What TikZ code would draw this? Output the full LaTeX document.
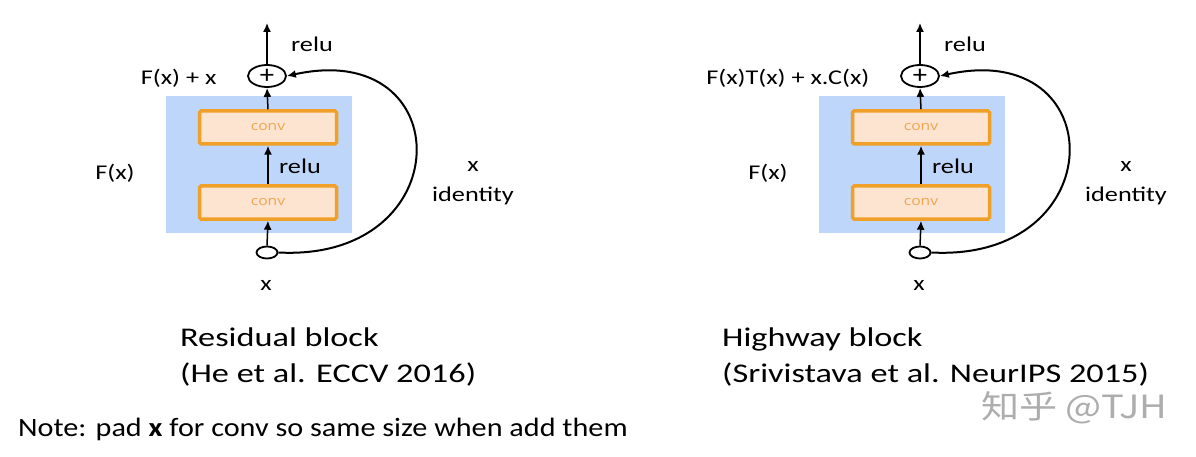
\documentclass[tikz,border=0pt]{standalone}
\usepackage{fontspec}
\usepackage{graphicx}
\setmainfont{Carlito}
\newfontfamily\convfont{Open Sans}
\newfontfamily\cjkfont{Noto Sans CJK SC}
\usetikzlibrary{shapes.geometric,arrows.meta}
\definecolor{fxblue}{RGB}{189,214,250}
\definecolor{convedge}{RGB}{240,160,40}
\definecolor{convfill}{RGB}{252,228,208}
\definecolor{convtext}{RGB}{240,165,80}
% the source is stretched sideways
\newcommand{\wide}[2][1.25]{\scalebox{#1}[1]{#2}}
\begin{document}
\begin{tikzpicture}[x=1pt,y=-1pt,
    lbl/.style={font=\fontsize{21}{25}\selectfont},
    captxt/.style={font=\fontsize{27}{31}\selectfont,anchor=base west,inner sep=0pt},
    convbox/.style={draw=convedge,fill=convfill,line width=3.5pt,rounded corners=1.5pt,
        minimum width=137pt,minimum height=33pt,inner sep=0pt,
        font=\convfont\fontsize{13}{15}\selectfont,text=convtext},
    flow/.style={-{Latex[length=9pt,width=8pt]},line width=1.5pt}]
    \useasboundingbox (0,0) rectangle (1196,457);
    \foreach \bx/\sumtxt/\nm in {0/{F(x) + x}/res,653/{F(x)T(x) + x.C(x)}/hw}
    {
        \begin{scope}[xshift=\bx]
            \node[fill=fxblue,minimum width=186pt,minimum height=137pt] (\nm-fx) at (259,164.5) {};
            \node[convbox] (\nm-convtop) at (268,127.5) {\wide[1.2]{conv}};
            \node[convbox] (\nm-convbot) at (268,202.5) {\wide[1.2]{conv}};
            \node[ellipse,draw,line width=1.8pt,minimum width=38pt,minimum height=22pt,inner sep=0pt,
                font=\fontsize{26}{28}\selectfont] (\nm-sum) at (267,76) {\wide[1.1]{+}};
            \node[ellipse,draw,line width=1.8pt,minimum width=21pt,minimum height=12pt,inner sep=0pt] (\nm-in) at (267,252.5) {};
            \coordinate (\nm-out) at (267,23);
            \draw[flow] (\nm-sum.north) -- (\nm-out);
            \draw[flow] (\nm-convtop.north) -- (\nm-sum.south);
            \draw[flow] (\nm-convbot.north) -- (\nm-convtop.south);
            \draw[flow] (\nm-in.north) -- (\nm-convbot.south);
            \draw[flow,line width=2pt] (\nm-in.east) .. controls (460,262) and (460,38) .. (\nm-sum.east);
            \node[lbl] (\nm-reluout) at (312,44) {\wide{relu}};
            \node[lbl] (\nm-relumid) at (300,166) {\wide{relu}};
            \node[lbl,anchor=east] (\nm-sumlbl) at (220,78) {\wide{\sumtxt}};
            \node[lbl] (\nm-fxlbl) at (115,173) {\wide{F(x)}};
            \node[lbl] (\nm-idx) at (473,166) {\wide{x}};
            \node[lbl] (\nm-idlbl) at (473,196) {\wide{identity}};
            \node[lbl] (\nm-inlbl) at (266,285) {\wide{x}};
        \end{scope}
    }
    \node[captxt] (res-title) at (180,346) {\wide[1.27]{Residual block}};
    \node[captxt] (res-ref) at (180,382) {\wide[1.27]{(He et al. ECCV 2016)}};
    \node[captxt] (hw-title) at (722,346) {\wide[1.27]{Highway block}};
    \node[captxt] (hw-ref) at (722,382) {\wide[1.27]{(Srivistava et al. NeurIPS 2015)}};
    \node[captxt,font=\fontsize{26.5}{30}\selectfont] (note) at (18,436) {\wide[1.14]{Note: pad \textbf{x} for conv so same size when add them}};
    \node[anchor=west,inner sep=0pt,text=black!32,font=\cjkfont\fontsize{32}{36}\selectfont] (mark) at (981,408) {\wide[1.19]{知乎 @TJH}};
\end{tikzpicture}
\end{document}
